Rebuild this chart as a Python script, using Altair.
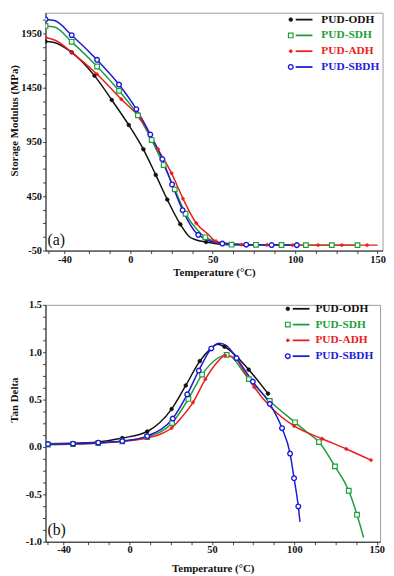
import altair as alt
import pandas as pd

SERIF = "Liberation Serif"
SERIES = ["PUD-ODH", "PUD-SDH", "PUD-ADH", "PUD-SBDH"]
COLORS = ["#111111", "#1e9e3a", "#ee1c1c", "#1c1cd8"]
# marker style per series: shape, filled, size, strokeWidth
MARK_STYLE = [("circle", True, 13, 0.8), ("square", False, 22, 1.2),
              ("cross", True, 12, 0.3), ("circle", False, 22, 1.4)]

# ---------- (a) Storage modulus: marker points ----------
A_ODH_T = [-51.5, -35.6, -21.8, -11.3, -1.0, 7.9, 15.4, 22.4, 30.3, 45.9, 61.4, 76.2]
A_ODH_V = [1874, 1774, 1560, 1336, 1106, 882, 646, 419, 192, 29, 4, 2]
A_SDH_T = [-51.5, -35.6, -20.2, -6.9, 4.6, 12.9, 20.2, 26.9, 33.5, 45.5, 61.4, 76.2, 91.7, 106.5, 122.2, 137.8]
A_SDH_V = [2017, 1871, 1644, 1420, 1194, 967, 737, 513, 289, 72, 4, 3, 1, 0, 0, 0]
A_ADH_T = [-51.5, -35.6, -20.2, -5.5, 6.3, 16.8, 25.0, 31.9, 40.0, 52.0, 67.5, 83.0, 98.4, 113.9, 128.3, 143.6]
A_ADH_V = [1911, 1774, 1572, 1342, 1160, 882, 661, 428, 201, 35, 5, 2, 0, 0, 0, 0]
A_SBDH_T = [-51.5, -35.6, -20.2, -6.9, 3.6, 12.1, 19.4, 25.3, 31.7, 41.2, 55.8, 70.3, 85.7, 101.0]
A_SBDH_V = [2077, 1932, 1705, 1478, 1251, 1018, 791, 558, 322, 95, 14, 4, 1, 0]
# extra curve points (line only)
A_ODH_XT = [-47.0, 35.6, 39.6, 55.0]
A_ODH_XV = [1868, 80, 50, 8]
A_SDH_XT = [-46.0, 42.6, 49.5, 55.0]
A_SDH_XV = [2007, 110, 45, 15]
A_ADH_XT = [-45.0, 47.5, 60.0, 150.0]
A_ADH_XV = [1881, 95, 14, 0]
A_SBDH_XT = [-46.0]
A_SBDH_XV = [2067]

# ---------- (b) Tan delta: marker points ----------
B_ODH_T = [-49.5, -34.3, -19.0, -4.4, 10.7, 25.5, 34.1, 42.6, 57.6, 72.3, 84.0]
B_ODH_V = [0.035, 0.038, 0.052, 0.094, 0.163, 0.40, 0.649, 0.906, 1.058, 0.816, 0.563]
B_SDH_T = [-49.5, -34.3, -19.0, -4.4, 10.7, 25.8, 35.7, 44.0, 58.9, 72.4, 85.1, 100.4, 114.9, 124.6, 133.0, 138.0]
B_SDH_V = [0.024, 0.030, 0.040, 0.060, 0.105, 0.253, 0.507, 0.764, 0.972, 0.716, 0.486, 0.260, 0.052, -0.205, -0.462, -0.715]
B_ADH_T = [-49.5, -34.3, -19.0, -4.4, 10.7, 25.5, 38.5, 46.0, 58.0, 75.6, 99.8, 116.8, 131.5, 146.5]
B_ADH_V = [0.030, 0.033, 0.042, 0.060, 0.095, 0.200, 0.470, 0.715, 0.965, 0.632, 0.222, 0.087, -0.021, -0.139]
B_SBDH_T = [-49.5, -34.3, -19.0, -4.4, 10.7, 26.2, 35.0, 42.0, 49.6, 64.9, 74.8, 85.1, 92.5, 97.4, 99.8, 102.4]
B_SBDH_V = [0.031, 0.035, 0.045, 0.062, 0.115, 0.300, 0.555, 0.806, 1.040, 0.938, 0.690, 0.455, 0.198, -0.070, -0.330, -0.628]
# extra curve points (line only)
B_ODH_XT = [-51.0, 48.5, 53.5]
B_ODH_XV = [0.035, 1.025, 1.083]
B_SDH_XT = [-51.0, 51.0, 107.0, 142.0]
B_SDH_XV = [0.024, 0.905, 0.165, -0.955]
B_ADH_XT = [-51.0, 20.0, 31.0, 52.5, 63.5, 69.5, 86.5]
B_ADH_XV = [0.030, 0.145, 0.300, 0.880, 0.945, 0.800, 0.406]
B_SBDH_XT = [-51.0, 54.5, 59.0, 103.4]
B_SBDH_XV = [0.031, 1.095, 1.068, -0.790]

# ---------- ticks ----------
X_TICKS = [-50, -40, -25, -12.5, 0, 12.5, 25, 37.5, 50, 62.5, 75, 87.5, 100, 112.5, 125, 137.5, 150]
X_LABELS = [-40, 0, 50, 100, 150]
YA_TICKS = [-50, 75, 200, 325, 450, 575, 700, 825, 950, 1075, 1200, 1325, 1450, 1575, 1700, 1825, 1950, 2075]
YB_TICKS = [-1.0, -0.875, -0.75, -0.625, -0.5, -0.375, -0.25, -0.125, 0.0, 0.125, 0.25, 0.375, 0.5,
            0.625, 0.75, 0.875, 1.0, 1.125, 1.25, 1.375, 1.5]


def frame(sets, with_extra):
    rows = []
    for name, (t, v, xt, xv) in zip(SERIES, sets):
        ts = list(t) + (list(xt) if with_extra else [])
        vs = list(v) + (list(xv) if with_extra else [])
        for a, b in sorted(zip(ts, vs)):
            rows.append({"series": name, "T": a, "V": b})
    return pd.DataFrame(rows)


A_SETS = [(A_ODH_T, A_ODH_V, A_ODH_XT, A_ODH_XV), (A_SDH_T, A_SDH_V, A_SDH_XT, A_SDH_XV),
          (A_ADH_T, A_ADH_V, A_ADH_XT, A_ADH_XV), (A_SBDH_T, A_SBDH_V, A_SBDH_XT, A_SBDH_XV)]
B_SETS = [(B_ODH_T, B_ODH_V, B_ODH_XT, B_ODH_XV), (B_SDH_T, B_SDH_V, B_SDH_XT, B_SDH_XV),
          (B_ADH_T, B_ADH_V, B_ADH_XT, B_ADH_XV), (B_SBDH_T, B_SBDH_V, B_SBDH_XT, B_SBDH_XV)]

LEGEND_DF = pd.DataFrame({"series": SERIES})
COLOR = alt.Color("series:N", scale=alt.Scale(domain=SERIES, range=COLORS), legend=None)


def marker_layers(df, x, y):
    out = []
    for name, col, (shape, filled, size, sw) in zip(SERIES, COLORS, MARK_STYLE):
        out.append(
            alt.Chart(df).transform_filter(alt.datum.series == name).mark_point(
                shape=shape, filled=filled, size=size, strokeWidth=sw, opacity=1,
                stroke=col, fill=col if filled else "white", clip=True,
            ).encode(x=x, y=y)
        )
    return out


def legend_layer(row_range, x_mark, x_line, x_text):
    ly = alt.Y("series:N", scale=alt.Scale(type="point", domain=SERIES, range=row_range, padding=0),
               axis=None)
    rule = alt.Chart(LEGEND_DF).mark_rule(strokeWidth=1.8).encode(
        y=ly, x=alt.value(x_line[0]), x2=alt.value(x_line[1]), color=COLOR)
    marks = marker_layers(LEGEND_DF, alt.value(x_mark), ly)
    text = alt.Chart(LEGEND_DF).mark_text(
        font=SERIF, fontWeight="bold", fontSize=11.5, align="left", baseline="middle").encode(
        y=ly, x=alt.value(x_text), text="series:N", color=COLOR)
    return alt.layer(rule, *marks, text)


def panel(sets, xdom, ydom, yticks, ylabel_expr, ytitle, ytitle_y, width, height,
          leg, tag, tag_y, xlab_pad, xtitle_pad):
    x = alt.X("T:Q", scale=alt.Scale(domain=xdom, nice=False, zero=False),
              axis=alt.Axis(values=X_TICKS, title="Temperature (°C)", tickSize=3,
                            labelPadding=xlab_pad, titlePadding=xtitle_pad,
                            labelExpr=f"indexof({X_LABELS}, datum.value) >= 0 ? toString(datum.value) : ''"))
    y = alt.Y("V:Q", scale=alt.Scale(domain=ydom, nice=False, zero=False),
              axis=alt.Axis(values=yticks, title=ytitle, tickSize=3, labelPadding=1,
                            labelExpr=ylabel_expr, titleX=-31, titleY=ytitle_y,
                            titleBaseline="middle"))
    lines = alt.Chart(frame(sets, True)).mark_line(
        interpolate="monotone", strokeWidth=1.5, clip=True).encode(
        x=x, y=y, color=COLOR, order="T:Q")
    pts = marker_layers(frame(sets, False), x, y)
    txt = alt.Chart(pd.DataFrame({"t": [tag]})).mark_text(
        font=SERIF, fontSize=16, align="left", baseline="alphabetic", color="#111").encode(
        x=alt.value(2), y=alt.value(tag_y), text="t:N")
    main = alt.layer(lines, *pts, txt)
    return alt.layer(main, leg).resolve_scale(y="independent").properties(width=width, height=height)


panel_a = panel(A_SETS, [-51.5, 153], [-50, 2139], YA_TICKS,
                "(datum.value + 50) % 500 === 0 ? toString(datum.value) : ''",
                "Storage Modulus (MPa)", 109, 341.5, 241,
                legend_layer([7, 55], 248.5, (253.5, 270.5), 279.5), "(a)", 235, 1, 2)

panel_b = panel(B_SETS, [-51, 152], [-1.0, 1.5], YB_TICKS,
                "abs(datum.value * 2 - round(datum.value * 2)) < 0.001 ? "
                "(datum.value < 0 ? '-' + format(-datum.value, '.1f') : format(datum.value, '.1f')) : ''",
                "Tan Delta", 96, 339, 240,
                legend_layer([4, 52], 245.5, (250.5, 267.5), 273.5), "(b)", 233, 0, 8)

chart = alt.vconcat(panel_a, panel_b, spacing=21).properties(
    padding={"left": 0, "top": 0, "right": 0, "bottom": 0}
).configure_view(stroke="#9a9a9a", strokeWidth=1).configure_axis(
    labelFont=SERIF, labelFontWeight="bold", labelFontSize=10.5, labelColor="#111",
    titleFont=SERIF, titleFontWeight="bold", titleFontSize=11, titleColor="#111",
    domainColor="#222", tickColor="#444", grid=False,
).configure_scale(continuousPadding=0)

chart.save("out.html", embed_options={"renderer": "svg", "actions": False})
